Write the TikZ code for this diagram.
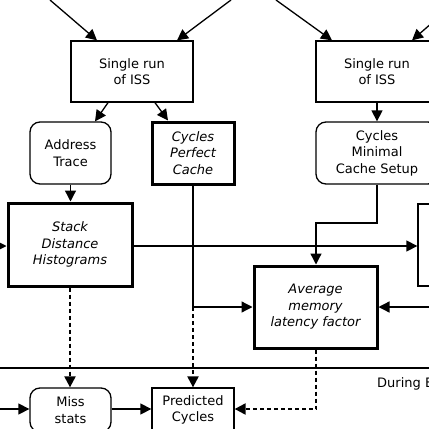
\documentclass[tikz,border=0pt]{standalone}
\usepackage{fontspec}
\setmainfont{DejaVu Sans}
\usetikzlibrary{arrows.meta}
\tikzset{
  every node/.style={font=\fontsize{13}{16.5}\selectfont, align=center, inner sep=0pt},
  thinbox/.style={draw, line width=1.3pt, rectangle},
  roundbox/.style={draw, line width=1.3pt, rectangle, rounded corners=10pt},
  thickbox/.style={draw, line width=3pt, rectangle, font=\fontsize{13}{16.5}\selectfont\itshape},
  conn/.style={line width=1.3pt, -{Triangle[length=11pt,width=11pt]}},
  plain/.style={line width=1.3pt},
  dconn/.style={line width=2.2pt, dash pattern=on 4pt off 3pt, -{Triangle[length=11pt,width=11pt]}},
  dplain/.style={line width=2.2pt, dash pattern=on 4pt off 3pt},
}
\begin{document}
\begin{tikzpicture}[x=1pt,y=-1pt]
\useasboundingbox (0,0) rectangle (429,429);
\fill[white] (0,0) rectangle (429,429);
\clip (0,0) rectangle (429,429);

% nodes
\node[thinbox, minimum width=122pt, minimum height=61pt] (run1) at (132,71.5) {Single run\\of ISS};
\node[thinbox, minimum width=122pt, minimum height=61pt] (run2) at (377,71.5) {Single run\\of ISS};
\node[roundbox, minimum width=81pt, minimum height=62pt] (addr) at (70.5,153) {Address\\Trace};
\node[thickbox, minimum width=82pt, minimum height=62pt] (perf) at (193,153) {Cycles\\Perfect\\Cache};
\node[roundbox, minimum width=122pt, minimum height=62pt] (mincache) at (377,153) {Cycles\\Minimal\\Cache Setup};
\node[thickbox, minimum width=124pt, minimum height=83pt] (sdh) at (70,244.5) {Stack\\Distance\\Histograms};
\node[thinbox, minimum width=110pt, minimum height=82pt] (rbox) at (473,245) {};
\node[thickbox, minimum width=123pt, minimum height=82pt] (amlf) at (315.5,307) {Average\\memory\\latency factor};
\node[roundbox, minimum width=81pt, minimum height=44pt] (miss) at (70.5,410) {Miss\\stats};
\node[thinbox, minimum width=82pt, minimum height=44pt] (pred) at (193,410) {Predicted\\Cycles};
\node[anchor=west] (during) at (377,384) {During E};

% free ends
\coordinate (t1) at (50,0);
\coordinate (t2) at (231,0);
\coordinate (t3) at (276,0);
\coordinate (t4) at (433,22);
\coordinate (lin1) at (-5,246);
\coordinate (lin2) at (-5,409);
\coordinate (rin) at (435,307);
\coordinate (j1) at (193,307);
\coordinate (j2a) at (377,223);
\coordinate (j2b) at (316,223);
\coordinate (j3) at (316,409);
\coordinate (hl) at (-5,368);
\coordinate (hr) at (435,368);

% top arrows
\draw[conn] (t1) -- ([xshift=-35pt]run1.north);
\draw[conn] (t2) -- ([xshift=45pt]run1.north);
\draw[conn] (t3) -- ([xshift=-45pt]run2.north);
\draw[conn] (t4) -- ([xshift=35pt]run2.north);

% box connections
\draw[conn] ([xshift=-24pt]run1.south) -- ([xshift=24.5pt]addr.north);
\draw[conn] ([xshift=23pt]run1.south) -- ([xshift=-25pt]perf.north);
\draw[conn] (run2.south) -- (mincache.north);
\draw[conn] (addr.south) -- (addr.south |- sdh.north);
\draw[conn] (lin1) -- (lin1 -| sdh.west);
\draw[conn] (sdh.east |- 0,246) -- (rbox.west |- 0,246);
\draw[plain] (perf.south) -- (j1);
\draw[conn] (j1) -- (amlf.west |- j1);
\draw[dconn] (j1) -- (pred.north);
\draw[conn] (mincache.south) -- (j2a) -- (j2b) -- (j2b |- amlf.north);
\draw[conn] (rin) -- (amlf.east |- rin);
\draw[dconn] (sdh.south) -- (sdh.south |- miss.north);
\draw[dconn] (j3 |- amlf.south) -- (j3) -- (pred.east |- j3);
\draw[conn] (lin2) -- (lin2 -| miss.west);
\draw[conn] (miss.east |- 0,409) -- (pred.west |- 0,409);

% separator
\draw[plain] (hl) -- (hr);
\end{tikzpicture}
\end{document}
